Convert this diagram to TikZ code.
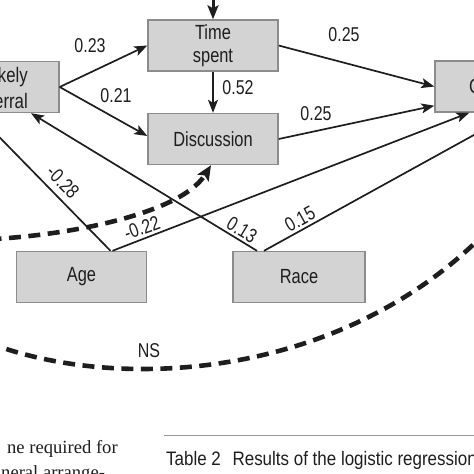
\documentclass[tikz,border=0pt]{standalone}
\usepackage{fontspec}
\setmainfont{Liberation Sans}[FakeStretch=0.8]
\newfontfamily\tabfont{Liberation Sans}[FakeStretch=0.87]
\newfontfamily\serifb{Liberation Serif}
\usetikzlibrary{arrows.meta}
\definecolor{boxfill}{HTML}{D3D3D3}
\definecolor{boxline}{HTML}{8C8C8C}
\definecolor{ink}{HTML}{1E1E1E}
\definecolor{rulegray}{HTML}{9A9A9A}
\begin{document}
\begin{tikzpicture}[x=1pt,y=-1pt,
  box/.style={draw=boxline,fill=boxfill,line width=1.4pt,minimum width=130pt,
    minimum height=51pt,inner sep=0pt,align=center,
    font=\fontsize{20.5}{23}\selectfont,text=ink},
  conn/.style={draw=ink,line width=1.7pt,-{Stealth[length=13pt,width=10pt,inset=3pt]}},
  dashcurve/.style={draw=ink,line width=4.6pt,dash pattern=on 12pt off 7.5pt},
  lab/.style={font=\fontsize{20}{23}\selectfont,text=ink,inner sep=0pt}]
\useasboundingbox (0,0) rectangle (474,474);
\clip (0,0) rectangle (474,474);
% boxes
\node[box] (lbox) at (-6,87) {};
\node[lab,anchor=east,align=right,font=\fontsize{21}{26}\selectfont] (ltext) at (28,88) {Likely\\referral\hspace{6pt}};
\node[box] (tbox) at (213,45.5) {Time\\spent};
\node[box] (dbox) at (213,139) {Discussion};
\node[box] (rbox) at (500,86.5) {};
\node[lab,anchor=west,font=\fontsize{20.5}{23}\selectfont] (rtext) at (469,86) {C};
\node[box] (age) at (81.5,277) {Age};
\node[box,minimum width=132pt] (race) at (299,277) {Race};
% connectors
\coordinate (topin) at (213,-12);
\draw[conn,line width=3pt,-{Stealth[length=14pt,width=11pt,inset=3pt]}] (topin) -- (tbox.north);
\draw[conn] (lbox.east) -- (tbox.west);
\draw[conn] (lbox.east) -- ([yshift=3pt]dbox.west);
\draw[conn] (tbox.south) -- (dbox.north);
\draw[conn] (tbox.east) -- (rbox.west);
\draw[conn] (dbox.east) -- ([yshift=7pt]rbox.south west);
\draw[conn] ([xshift=31pt]age.north) -- ([xshift=35pt]rbox.south west);
\draw[conn] ([xshift=-42pt]race.north) -- ([xshift=37pt]lbox.south);
\draw[conn] ([xshift=-35pt]race.north) -- ([xshift=80pt]rbox.south west);
\draw[conn] ([xshift=29pt]age.north) -- ([xshift=-18pt]lbox.south);
% dashed curves
\coordinate (dstart) at (-30,240);
\draw[dashcurve,-{Stealth[length=15pt,width=13pt,inset=3pt]}] (dstart) .. controls (60,238) and (180,215) .. ([xshift=-2pt]dbox.south);
\coordinate (nsA) at (-30,335);
\coordinate (nsB) at (490,228);
\draw[dashcurve] (nsA) .. controls (100,395) and (340,385) .. (nsB);
% labels
\node[lab] (l23) at (90,46) {0.23};
\node[lab] (l21) at (116,96) {0.21};
\node[lab] (l52) at (238,88) {0.52};
\node[lab] (l25a) at (344,35) {0.25};
\node[lab] (l25b) at (316,114) {0.25};
\node[lab,rotate=-45] (l28) at (63,182) {-0.28};
\node[lab,rotate=20] (l22) at (142,228) {-0.22};
\node[lab,rotate=-31] (l13) at (242,230) {0.13};
\node[lab,rotate=29] (l15) at (300,219) {0.15};
\node[lab] (lns) at (149,351) {NS};
% page text
\coordinate (ruleA) at (164,435);
\coordinate (ruleB) at (474,435);
\draw[rulegray,line width=1pt] (ruleA) -- (ruleB);
\node[anchor=base west,inner sep=0pt,text=ink,font=\tabfont\fontsize{19.5}{22}\selectfont] (tab) at (166,465) {Table 2\hspace{0.6em}Results of the logistic regression};
\node[anchor=base west,inner sep=0pt,text=ink,font=\serifb\fontsize{18.6}{22}\selectfont] (pt1) at (7,453) {ne required for};
\node[anchor=base west,inner sep=0pt,text=ink,font=\serifb\fontsize{18.6}{22}\selectfont] (pt2) at (1,478) {neral arrange-};
\end{tikzpicture}
\end{document}
